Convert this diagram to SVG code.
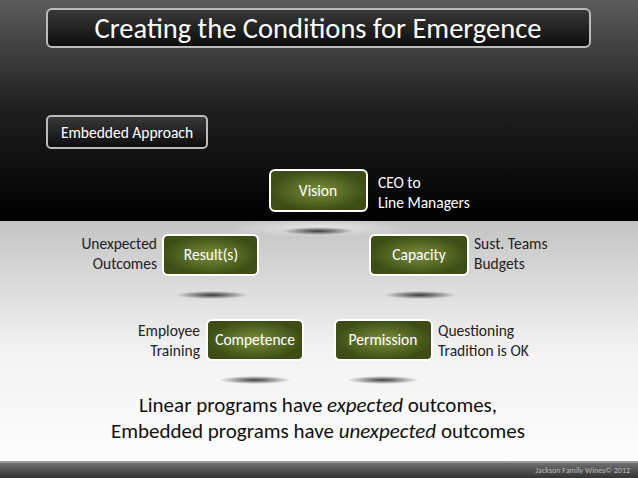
<svg xmlns="http://www.w3.org/2000/svg" width="638" height="478" viewBox="0 0 638 478">
<defs>
<linearGradient id="top" x1="0" y1="0" x2="0" y2="1"><stop offset="0" stop-color="#5c5c5c"/><stop offset="0.5" stop-color="#1e1e1e"/><stop offset="1" stop-color="#000"/></linearGradient>
<linearGradient id="bot" x1="0" y1="0" x2="0" y2="1"><stop offset="0" stop-color="#c4c4c4"/><stop offset="0.5" stop-color="#f2f2f2"/><stop offset="1" stop-color="#fff"/></linearGradient>
<linearGradient id="bar" x1="0" y1="0" x2="0" y2="1"><stop offset="0" stop-color="#777"/><stop offset="1" stop-color="#333"/></linearGradient>
<linearGradient id="tb" x1="0" y1="0" x2="0" y2="1"><stop offset="0" stop-color="#3a3a3a"/><stop offset="1" stop-color="#0c0c0c"/></linearGradient>
<radialGradient id="g"><stop offset="0" stop-color="#7a8e3a"/><stop offset="1" stop-color="#3d4d15"/></radialGradient>
<radialGradient id="sh"><stop offset="0" stop-color="#000" stop-opacity="0.75"/><stop offset="1" stop-color="#000" stop-opacity="0"/></radialGradient>
<radialGradient id="halo"><stop offset="0" stop-color="#fff" stop-opacity="0.6"/><stop offset="1" stop-color="#fff" stop-opacity="0"/></radialGradient>
</defs>
<style>
text{font-family:Calibri,Carlito,"Open Sans","Liberation Sans",sans-serif}
.n{fill:url(#g);stroke:#fff;stroke-width:2}
.nt{fill:#fff;font-size:15.5px;text-anchor:middle}
.lw{fill:#fff;font-size:15.5px}
.lb{fill:#222;font-size:15.5px}
</style>
<rect width="638" height="221" fill="url(#top)"/>
<rect y="221" width="638" height="257" fill="url(#bot)"/>
<rect x="47" y="9" width="543" height="38" rx="5" fill="url(#tb)" stroke="#bbb" stroke-width="2"/>
<text x="318" y="38" font-size="28.5" fill="#fff" text-anchor="middle">Creating the Conditions for Emergence</text>
<rect x="47" y="116" width="160" height="32" rx="4" fill="url(#tb)" stroke="#bbb" stroke-width="2"/>
<text x="127" y="138" class="lw" text-anchor="middle">Embedded Approach</text>
<g id="shadows">
<ellipse cx="318" cy="228" rx="90" ry="9" fill="url(#halo)"/>
<ellipse cx="318" cy="231" rx="36" ry="4" fill="url(#sh)"/>
<ellipse cx="212" cy="295" rx="36" ry="4" fill="url(#sh)"/>
<ellipse cx="420" cy="295" rx="36" ry="4" fill="url(#sh)"/>
<ellipse cx="255" cy="380" rx="36" ry="4" fill="url(#sh)"/>
<ellipse cx="383" cy="380" rx="36" ry="4" fill="url(#sh)"/>
</g>
<g id="connectors"/>
<g id="vision"><rect class="n" x="270" y="170" width="97" height="41" rx="5"/><text class="nt" x="318" y="196">Vision</text>
<text class="lw" x="378" y="188">CEO to</text><text class="lw" x="378" y="208">Line Managers</text></g>
<g id="results"><rect class="n" x="163" y="235" width="95" height="40" rx="5"/><text class="nt" x="211" y="260">Result(s)</text>
<text class="lb" x="157" y="249" text-anchor="end">Unexpected</text><text class="lb" x="157" y="269" text-anchor="end">Outcomes</text></g>
<g id="capacity"><rect class="n" x="370" y="235" width="98" height="40" rx="5"/><text class="nt" x="419" y="260">Capacity</text>
<text class="lb" x="474" y="249">Sust. Teams</text><text class="lb" x="474" y="269">Budgets</text></g>
<g id="competence"><rect class="n" x="207" y="320" width="96" height="40" rx="5"/><text class="nt" x="255" y="345">Competence</text>
<text class="lb" x="200" y="336" text-anchor="end">Employee</text><text class="lb" x="200" y="356" text-anchor="end">Training</text></g>
<g id="permission"><rect class="n" x="335" y="320" width="97" height="40" rx="5"/><text class="nt" x="383" y="345">Permission</text>
<text class="lb" x="438" y="336">Questioning</text><text class="lb" x="438" y="356">Tradition is OK</text></g>
<text x="318" y="412" font-size="21" fill="#111" text-anchor="middle">Linear programs have <tspan font-style="italic">expected</tspan> outcomes,</text>
<text x="318" y="438" font-size="21" fill="#111" text-anchor="middle">Embedded programs have <tspan font-style="italic">unexpected</tspan>  outcomes</text>
<rect x="0" y="461" width="638" height="17" fill="url(#bar)"/>
<rect x="0" y="461" width="638" height="2" fill="#999"/>
<text x="630" y="473" font-size="8" fill="#bbb" text-anchor="end">Jackson Family Wines© 2012</text>
</svg>
